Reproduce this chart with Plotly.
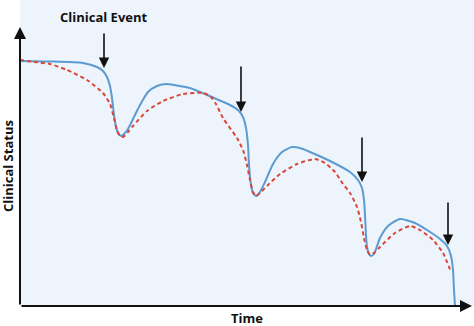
import plotly.graph_objects as go

# Pixel-read values converted to (time, status) units
blue_px = [(20,61),(50,61.5),(83,63),(97,67),(103,71),(107,77),(110,86),(112,98),(114,115),(116,127),(118,133),(121,136),(124,134),(128,129),(134,117),(140,105),(148,92),(157,86),(167,84),(180,86),(190,88),(207,95),(230,105),(238,110),(243,117),(246,128),(248,145),(249,165),(251,185),(253,193),(256,196),(260,192),(265,182),(273,164),(282,152),(292,147),(300,148),(310,152),(330,161),(350,172),(358,180),(362,188),(364,200),(365,215),(366,235),(367,247),(369,254),(371,256),(374,254),(380,238),(388,226),(400,219),(415,223),(427,230),(440,239),(447,246),(451,256),(453,270),(454,290),(455,306)]
red_px = [(20,60),(35,62),(50,64),(67,70),(87,80),(103,93),(110,104),(114,118),(117,130),(120,136),(123,137),(128,132),(133,126),(147,111),(163,101),(183,94),(203,93),(210,96),(216,104),(223,118),(237,138),(243,150),(247,165),(250,180),(253,192),(256,196),(260,193),(268,185),(280,174),(297,164),(315,159),(325,163),(335,172),(343,184),(350,193),(357,207),(361,222),(364,238),(367,250),(370,255),(374,253),(380,247),(395,233),(410,226),(420,230),(433,240),(443,253),(451,272)]

blue_time = [p[0] - 20 for p in blue_px]
blue_status = [306 - p[1] for p in blue_px]
red_time = [p[0] - 20 for p in red_px]
red_status = [306 - p[1] for p in red_px]

event_time = [84, 221, 342, 428]
event_tip = [238, 194, 124, 61]
event_tail = [274, 241, 170, 105]

X_MAX = 454
Y_MAX = 306

fig = go.Figure()
fig.add_trace(go.Scatter(x=blue_time, y=blue_status, mode="lines",
                         line=dict(color="#5b9bd1", width=2, shape="spline", smoothing=0.6),
                         hoverinfo="skip"))
fig.add_trace(go.Scatter(x=red_time, y=red_status, mode="lines",
                         line=dict(color="#d9473a", width=2, dash="4px,3px", shape="spline", smoothing=0.6),
                         hoverinfo="skip"))

ann = []
for t, tip, tail in zip(event_time, event_tip, event_tail):
    ann.append(dict(x=t, y=tip, ax=t, ay=tail, xref="x", yref="y", axref="x", ayref="y",
                    text="", showarrow=True, arrowhead=2, arrowsize=1.3, arrowwidth=1.6,
                    arrowcolor="#111111"))
# axes arrows
ann.append(dict(x=0, y=279, ax=0, ay=0, xref="x", yref="y", axref="x", ayref="y",
                text="", showarrow=True, arrowhead=2, arrowsize=1.2, arrowwidth=2, arrowcolor="#111111"))
ann.append(dict(x=452, y=0, ax=0, ay=0, xref="x", yref="y", axref="x", ayref="y",
                text="", showarrow=True, arrowhead=2, arrowsize=1.2, arrowwidth=2, arrowcolor="#111111"))
font = dict(family="Open Sans", size=13, color="#111111")
ann.append(dict(x=84, y=289, xref="x", yref="y", text="<b>Clinical Event</b>", showarrow=False,
                font=font, xanchor="center", yanchor="middle"))
ann.append(dict(x=(8 - 20) / 454, y=(306 - 166) / 306, xref="paper", yref="paper",
                text="<b>Clinical Status</b>", textangle=-90, showarrow=False, font=font,
                xanchor="center", yanchor="middle"))
ann.append(dict(x=(247 - 20) / 454, y=(306 - 318) / 306, xref="paper", yref="paper",
                text="<b>Time</b>", showarrow=False, font=font, xanchor="center", yanchor="middle"))

fig.update_layout(
    width=474, height=326,
    margin=dict(l=20, r=0, t=0, b=20),
    paper_bgcolor="white", plot_bgcolor="#eef4fc",
    showlegend=False,
    xaxis=dict(range=[0, X_MAX], visible=False, fixedrange=True),
    yaxis=dict(range=[0, Y_MAX], visible=False, fixedrange=True),
    annotations=ann,
)
fig.write_html("out.html")
